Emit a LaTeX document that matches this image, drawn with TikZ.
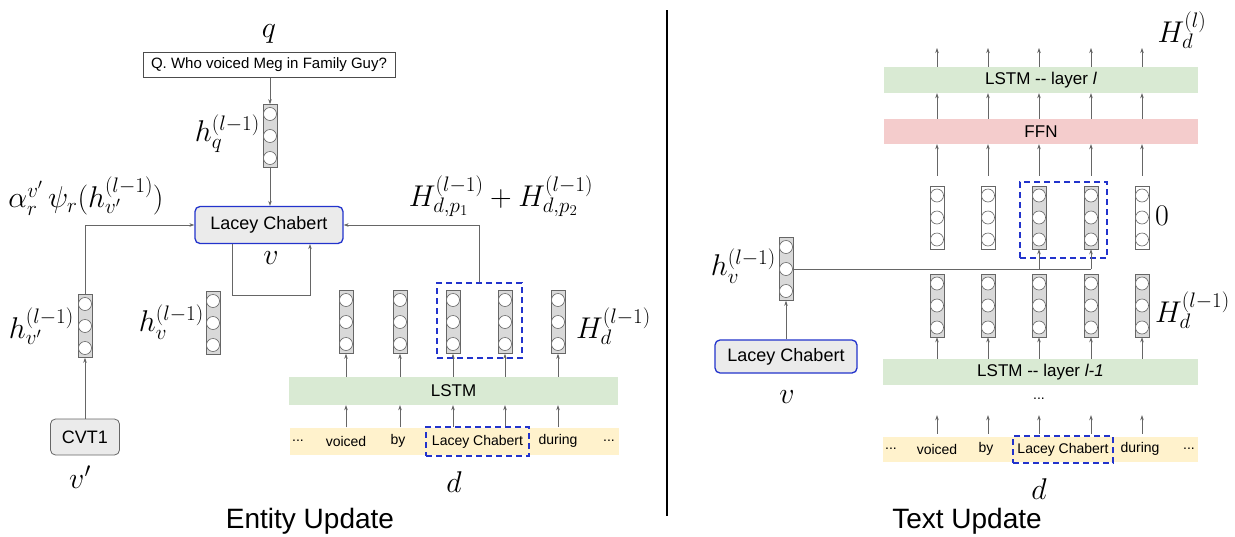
\RequirePackage{fix-cm}
\documentclass[tikz,border=0pt]{standalone}
\usepackage{fontspec}
\setmainfont{Liberation Sans}
\usetikzlibrary{arrows.meta,calc}
\definecolor{vg}{HTML}{D9D9D9}
\definecolor{lg}{HTML}{D9EAD3}
\definecolor{ly}{HTML}{FFF2CC}
\definecolor{lp}{HTML}{F4CCCC}
\definecolor{bb}{HTML}{2233CC}
\tikzset{
 vecbox/.style={draw=black!60,line width=0.6pt,minimum width=14pt,minimum height=63pt,inner sep=0pt},
 cell/.style={circle,draw=black!60,fill=white,line width=0.6pt,minimum size=13pt,inner sep=0pt},
 arr/.style={draw=black!60,line width=0.6pt,-{Stealth[length=5pt,width=3.5pt]}},
 ln/.style={draw=black!60,line width=0.6pt},
 bar/.style={inner sep=0pt,font=\fontsize{17}{20}\selectfont},
 tok/.style={font=\fontsize{14}{16}\selectfont,inner sep=1pt},
 ent/.style={draw=bb,line width=1.3pt,rounded corners=5pt,fill=black!8,inner sep=0pt,font=\fontsize{18}{20}\selectfont},
 dbox/.style={draw=bb,line width=1.5pt,dash pattern=on 6pt off 4pt},
 mlab/.style={font=\fontsize{30}{34}\selectfont,inner sep=0pt},
 title/.style={font=\fontsize{28}{32}\selectfont},
}
\newcommand\myvec[4]{%
 \node[vecbox,fill=#4] (#1) at (#2,#3) {};
 \foreach \k in {-1,0,1} \node[cell] (#1c\k) at ($(#1.center)+(0,\k*22)$) {};}
\begin{document}
\begin{tikzpicture}[x=1pt,y=-1pt]
\useasboundingbox[fill=white] (0,0) rectangle (1235,536);
% divider
\draw[line width=2pt] (667,10) -- (667,516);
%% ===== Entity Update
\node[mlab] (q) at (269,34) {$q$};
\node[draw=black!70,line width=0.8pt,minimum width=252pt,minimum height=25pt,inner sep=0pt,font=\fontsize{15}{17}\selectfont] (qbox) at (269,65) {Q. Who voiced Meg in Family Guy?};
\myvec{hq}{270}{136}{vg}
\node[mlab,anchor=east] (hql) at (260,134) {$h_q^{(l-1)}$};
\draw[arr] (qbox.south -| hq) -- (hq.north);
\node[ent,minimum width=148pt,minimum height=37pt] (lc) at (269,225) {Lacey Chabert};
\draw[arr] (hq.south) -- (lc.north -| hq);
\node[mlab] (vl) at (271,258) {$v$};
\coordinate (lp1) at (232,295);
\coordinate (lp2) at (310,295);
\draw[arr] (lc.south -| lp1) -- (lp1) -- (lp2) -- (lc.south -| lp2);
\node[mlab] (al) at (86,196) {$\alpha_r^{v'}\,\psi_r(h_{v'}^{(l-1)})$};
\myvec{hvp}{85}{326}{vg}
\draw[arr] (hvp.north) |- (lc.west);
\node[mlab,anchor=east] (hvpl) at (74,326) {$h_{v'}^{(l-1)}$};
\node[draw=black!60,line width=0.8pt,rounded corners=5pt,fill=black!8,minimum width=69pt,minimum height=36pt,inner sep=0pt,font=\fontsize{18}{20}\selectfont] (cvt) at (85,437) {CVT1};
\draw[arr] (cvt.north) -- (hvp.south);
\node[mlab] (vpl) at (80,477) {$v'$};
\myvec{hv}{213}{323}{vg}
\node[mlab,anchor=east] (hvl) at (204,322) {$h_v^{(l-1)}$};
% LSTM, tokens
\node[bar,fill=lg,minimum width=329pt,minimum height=28pt] (lstm) at (453.5,391) {LSTM};
\node[fill=ly,minimum width=329pt,minimum height=27pt,inner sep=0pt] (tokbar) at (454.5,441) {};
\foreach \n/\x in {a/346,b/400,c/453,d/505,e/558}{
 \myvec{dv\n}{\x}{322}{vg}
 \draw[arr] (lstm.north -| dv\n) -- (dv\n.south);
 \draw[arr] (tokbar.north -| dv\n) -- (lstm.south -| dv\n);
}
\node[dbox,minimum width=85pt,minimum height=75pt,inner sep=0pt] (db1) at (479.5,320.5) {};
\draw[arr] (db1.north) |- (lc.east);
\node[mlab] (hsum) at (501,196) {$H_{d,p_1}^{(l-1)}+H_{d,p_2}^{(l-1)}$};
\node[mlab,anchor=west] (hdl) at (576,326) {$H_d^{(l-1)}$};
\node[tok] (t1) at (298,441) {...};
\node[tok] (t2) at (346,441) {voiced};
\node[tok] (t3) at (398,441) {by};
\node[tok,dbox,minimum width=103pt,minimum height=29pt] (t4) at (477.5,441.5) {Lacey Chabert};
\node[tok] (t5) at (558,441) {during};
\node[tok] (t6) at (609,441) {...};
\node[mlab] (dl) at (454,482) {$d$};
\node[title] (et) at (310,521) {Entity Update};
%% ===== Text Update
\node[mlab] (hdo) at (1182,30) {$H_d^{(l)}$};
\node[bar,fill=lg,minimum width=314pt,minimum height=26pt] (lstml) at (1041,80) {LSTM {-}{-} layer \textit{l}};
\node[bar,fill=lp,minimum width=314pt,minimum height=25pt] (ffn) at (1041,131.5) {FFN};
\node[bar,fill=lg,minimum width=315pt,minimum height=26pt] (lstmm) at (1040.5,372) {LSTM {-}{-} layer \textit{l-1}};
\node[tok] (dots) at (1039,399) {...};
\node[fill=ly,minimum width=315pt,minimum height=25pt,inner sep=0pt] (tokbar2) at (1040.5,449.5) {};
\foreach \n/\x/\f in {a/937/white,b/988/white,c/1039/vg,d/1091/vg,e/1142/white}{
 \myvec{u\n}{\x}{217.5}{\f}
 \myvec{w\n}{\x}{305.5}{vg}
 \coordinate (top\n) at (\x,48);
 \draw[arr] (lstml.north -| u\n) -- (top\n);
 \draw[arr] (ffn.north -| u\n) -- (lstml.south -| u\n);
 \coordinate (uu\n) at ($(u\n.north)+(0,-10)$);
 \draw[arr] (uu\n) -- (ffn.south -| u\n);
 \draw[arr] (lstmm.north -| w\n) -- (w\n.south);
 \coordinate (tb\n) at ($(tokbar2.north -| w\n)+(0,-3)$);
 \coordinate (ls\n) at ($(lstmm.south -| w\n)+(0,30)$);
 \draw[arr] (tb\n) -- (ls\n);
}
\node[dbox,minimum width=87pt,minimum height=76pt,inner sep=0pt] (db2) at (1063.5,220) {};
\node[mlab] (zero) at (1162,216) {$0$};
\node[mlab,anchor=west] (hdl2) at (1155,310) {$H_d^{(l-1)}$};
\myvec{hv2}{786}{269}{vg}
\node[mlab,anchor=east] (hv2l) at (776,266) {$h_v^{(l-1)}$};
\coordinate (jc) at (hv2c0.east -| uc);
\coordinate (jd) at (hv2c0.east -| ud);
\draw[ln] (hv2c0.east) -- (jd);
\draw[arr] (jc) -- (uc.south);
\draw[arr] (jd) -- (ud.south);
\node[ent,minimum width=142pt,minimum height=33pt] (lc2) at (786,356.5) {Lacey Chabert};
\draw[arr] (lc2.north) -- (hv2.south);
\node[mlab] (v2) at (787,397) {$v$};
\node[tok] (s1) at (891,449) {...};
\node[tok] (s2) at (937,449) {voiced};
\node[tok] (s3) at (986,449) {by};
\node[tok,dbox,minimum width=100pt,minimum height=27pt] (s4) at (1063,449.5) {Lacey Chabert};
\node[tok] (s5) at (1140,449) {during};
\node[tok] (s6) at (1189,449) {...};
\node[mlab] (d2) at (1039,489) {$d$};
\node[title] (tt) at (967,521) {Text Update};
\end{tikzpicture}
\end{document}
